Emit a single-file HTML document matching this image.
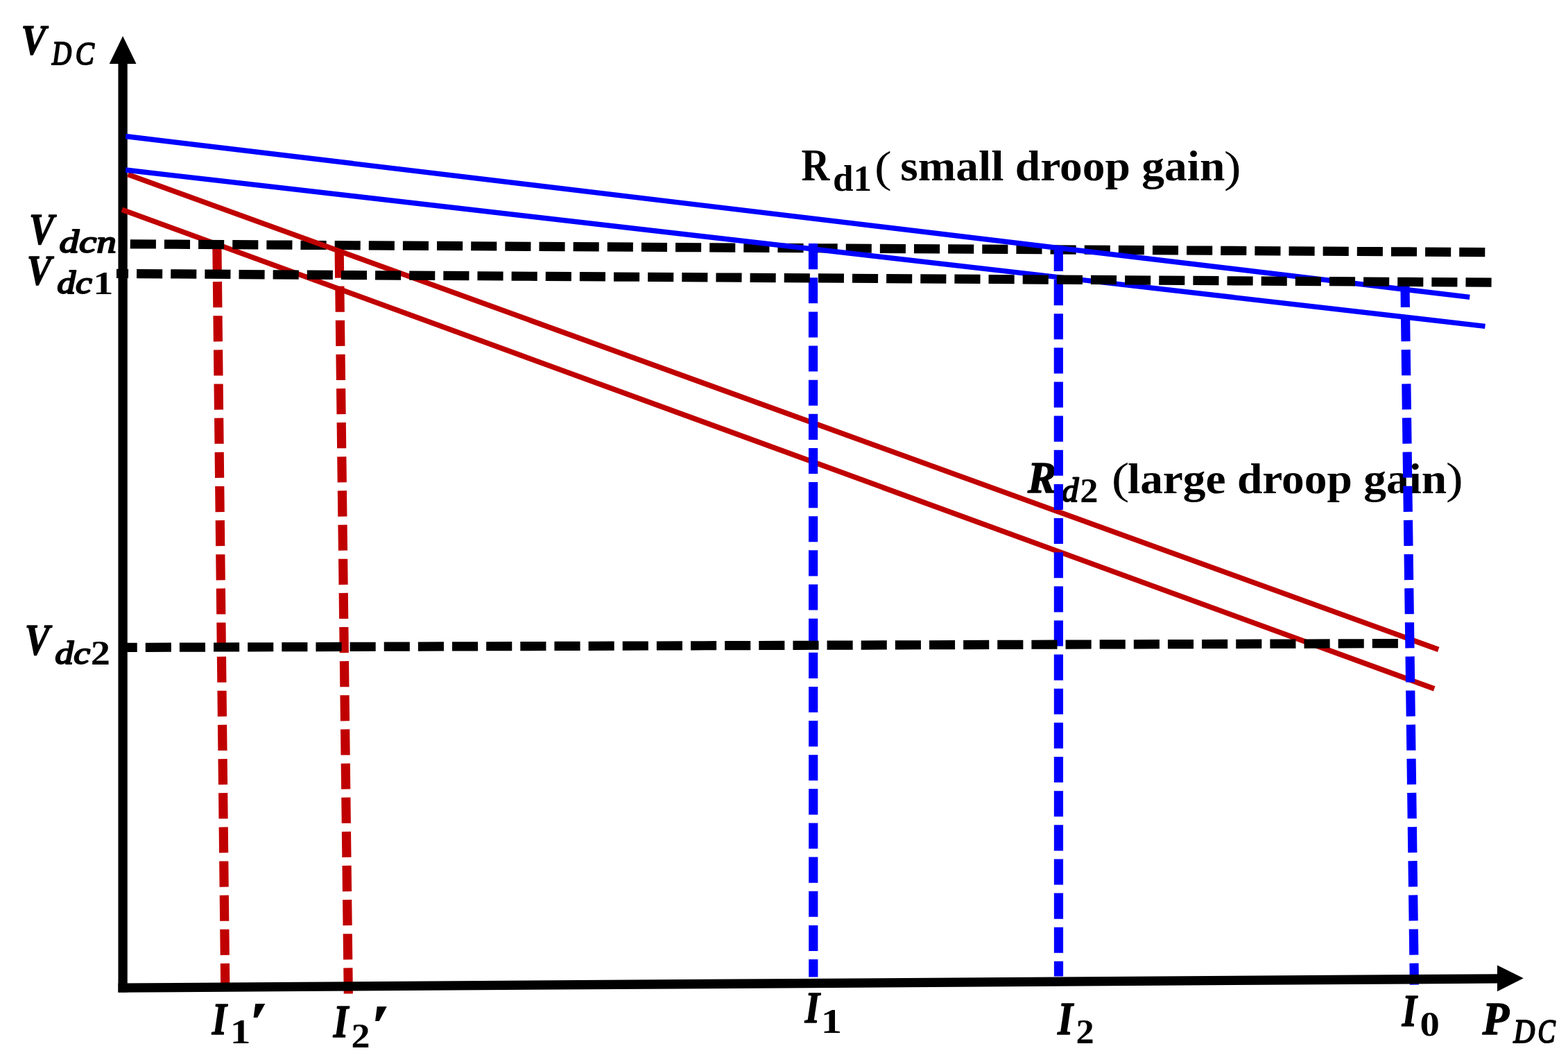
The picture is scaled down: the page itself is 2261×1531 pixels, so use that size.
<!DOCTYPE html>
<html lang="en">
<head>
<meta charset="utf-8">
<title>Droop control characteristic</title>
<style>
html,body{margin:0;padding:0;background:#fff;}
body{width:2261px;height:1531px;overflow:hidden;}
svg{display:block;}
text{font-family:"Liberation Serif",serif;}
.bi{font-weight:700;font-style:italic;}
.b{font-weight:700;}
.r{font-weight:400;}
.i{font-weight:400;font-style:italic;}
</style>
</head>
<body>
<svg xmlns="http://www.w3.org/2000/svg" width="2261" height="1531" viewBox="0 0 2261 1531">
<rect width="2261" height="1531" fill="#fff"/>
<g id="labels" fill="#000">
<text class="bi" font-size="100" stroke="#000" stroke-width="2.4" stroke-linejoin="round" transform="matrix(0.53714 0 0 0.61295 30.48 77.86)">V</text>
<text class="i" font-size="100" stroke="#000" stroke-width="4.5" stroke-linejoin="round" transform="matrix(0.38954 0 0 0.47571 74.96 92.91)">D</text>
<text class="i" font-size="100" stroke="#000" stroke-width="4.5" stroke-linejoin="round" transform="matrix(0.40451 0 0 0.47083 108.68 92.75)">C</text>
<text class="bi" font-size="100" stroke="#000" stroke-width="2.4" stroke-linejoin="round" transform="matrix(0.53714 0 0 0.64173 41.88 351.77)">V</text>
<text class="i" font-size="100" stroke="#000" stroke-width="4.5" stroke-linejoin="round" transform="matrix(0.57113 0 0 0.46133 85.41 364.19)">dcn</text>
<text class="bi" font-size="100" stroke="#000" stroke-width="2.4" stroke-linejoin="round" transform="matrix(0.53143 0 0 0.61151 38.71 410.37)">V</text>
<text class="i" font-size="100" stroke="#000" stroke-width="4.5" stroke-linejoin="round" transform="matrix(0.53684 0 0 0.45600 82.23 423.1)">dc</text>
<text class="b" font-size="100" transform="matrix(0.58378 0 0 0.46212 134.13 424.2)">1</text>
<text class="bi" font-size="100" stroke="#000" stroke-width="2.4" stroke-linejoin="round" transform="matrix(0.53714 0 0 0.63309 35.78 943.6)">V</text>
<text class="i" font-size="100" stroke="#000" stroke-width="4.5" stroke-linejoin="round" transform="matrix(0.53789 0 0 0.46533 79.33 956.97)">dc</text>
<text class="b" font-size="100" transform="matrix(0.56429 0 0 0.50606 130.84 958.1)">2</text>
<text class="b" font-size="100" transform="matrix(0.56503 0 0 0.65496 1155.55 260.37)">R</text>
<text class="b" font-size="100" transform="matrix(0.53264 0 0 0.52429 1200.97 274.88)">d1</text>
<text class="r" font-size="100" transform="matrix(0.74118 0 0 0.63333 1260.96 261.9)">(</text>
<text class="b" font-size="100" transform="matrix(0.65475 0 0 0.61874 1298.34 260.4)">small droop gain</text>
<text class="r" font-size="100" transform="matrix(0.73846 0 0 0.63556 1765.08 261.65)">)</text>
<text class="bi" font-size="100" stroke="#000" stroke-width="2.4" stroke-linejoin="round" transform="matrix(0.61679 0 0 0.63676 1482.03 710.04)">R</text>
<text class="i" font-size="100" stroke="#000" stroke-width="4.5" stroke-linejoin="round" transform="matrix(0.49038 0 0 0.48000 1530.75 722.92)">d</text>
<text class="b" font-size="100" transform="matrix(0.52381 0 0 0.50000 1557.2 724.1)">2</text>
<text class="r" font-size="100" transform="matrix(0.76863 0 0 0.64222 1602.64 711.41)">(</text>
<text class="b" font-size="100" transform="matrix(0.65396 0 0 0.61799 1625.99 710.9)">large droop gain</text>
<text class="r" font-size="100" transform="matrix(0.74231 0 0 0.64222 2084.97 711.41)">)</text>
<text class="bi" font-size="100" stroke="#000" stroke-width="2.4" stroke-linejoin="round" transform="matrix(0.54222 0 0 0.66176 305.78 1491.01)">I</text>
<text class="b" font-size="100" transform="matrix(0.59459 0 0 0.50000 331.74 1504.1)">1</text>
<text class="bi" font-size="100" transform="matrix(1.11333 0 0 0.85106 356.59 1502.74)">′</text>
<text class="bi" font-size="100" stroke="#000" stroke-width="2.4" stroke-linejoin="round" transform="matrix(0.55111 0 0 0.67206 480.7 1494.59)">I</text>
<text class="b" font-size="100" transform="matrix(0.54048 0 0 0.51061 506.44 1510.1)">2</text>
<text class="bi" font-size="100" transform="matrix(1.11333 0 0 0.88511 531.89 1508.87)">′</text>
<text class="bi" font-size="100" stroke="#000" stroke-width="2.4" stroke-linejoin="round" transform="matrix(0.54444 0 0 0.62500 1160.69 1474.26)">I</text>
<text class="b" font-size="100" transform="matrix(0.60541 0 0 0.51061 1183.76 1489.4)">1</text>
<text class="bi" font-size="100" stroke="#000" stroke-width="2.4" stroke-linejoin="round" transform="matrix(0.56000 0 0 0.66618 1525.32 1491.2)">I</text>
<text class="b" font-size="100" transform="matrix(0.52381 0 0 0.50455 1551.5 1504.2)">2</text>
<text class="bi" font-size="100" stroke="#000" stroke-width="2.4" stroke-linejoin="round" transform="matrix(0.54222 0 0 0.65147 2021.78 1479.02)">I</text>
<text class="b" font-size="100" transform="matrix(0.56667 0 0 0.50074 2047.43 1492.7)">0</text>
<text class="bi" font-size="100" stroke="#000" stroke-width="2.4" stroke-linejoin="round" transform="matrix(0.62636 0 0 0.66618 2137.84 1491.2)">P</text>
<text class="i" font-size="100" stroke="#000" stroke-width="4.5" stroke-linejoin="round" transform="matrix(0.42614 0 0 0.48286 2182.59 1503.19)">D</text>
<text class="i" font-size="100" stroke="#000" stroke-width="4.5" stroke-linejoin="round" transform="matrix(0.37594 0 0 0.47778 2217.48 1503.03)">C</text>
</g>
<g id="red-dashed" fill="none">
<line x1="312.9" y1="357" x2="324.7" y2="1418" stroke="#c00000" stroke-width="13.2" stroke-dasharray="37.1 12.04"/>
<line x1="489.2" y1="363.5" x2="502.3" y2="1432.6" stroke="#c00000" stroke-width="13.2" stroke-dasharray="37.1 12.04"/>
</g>
<g id="y-axis">
<line x1="177.1" y1="90" x2="177.1" y2="1430.6" stroke="#000000" stroke-width="13.3"/>
<polygon points="177.1,52 157.7,92 196.5,92" fill="#000"/>
</g>
<g id="red-line-2" fill="none">
<line x1="175.9" y1="302.3" x2="2068.2" y2="992.9" stroke="#c00000" stroke-width="7.6"/>
</g>
<g id="vdcn" fill="none">
<line x1="187.8" y1="351.8" x2="2141.6" y2="363.6" stroke="#000000" stroke-width="13.2" stroke-dasharray="37.1 12.04"/>
</g>
<g id="red-line-1" fill="none">
<line x1="184.4" y1="251.5" x2="2074.2" y2="936.4" stroke="#c00000" stroke-width="7.6"/>
</g>
<g id="blue-dashed" fill="none">
<line x1="1172.5" y1="351.1" x2="1172.8" y2="1408.6" stroke="#0000ff" stroke-width="13.2" stroke-dasharray="37.1 12.04"/>
<line x1="1526.3" y1="353.9" x2="1526.5" y2="1407.5" stroke="#0000ff" stroke-width="13.2" stroke-dasharray="37.1 12.04"/>
<line x1="2025.9" y1="405.9" x2="2039.4" y2="1419.6" stroke="#0000ff" stroke-width="13.2" stroke-dasharray="37.1 12.04"/>
</g>
<g id="x-axis">
<line x1="170.5" y1="1424.1" x2="2160.5" y2="1410.9" stroke="#000000" stroke-width="13.3"/>
<polygon points="2159,1391.5 2196.8,1410.3 2159,1429.2" fill="#000"/>
</g>
<g id="blue-lines" fill="none">
<line x1="181.2" y1="196.5" x2="2119.3" y2="428.4" stroke="#0000ff" stroke-width="7.4"/>
<line x1="181.2" y1="245" x2="2141.5" y2="470.4" stroke="#0000ff" stroke-width="7.4"/>
</g>
<g id="vdc1-vdc2" fill="none">
<line x1="2150.6" y1="407.2" x2="168" y2="394.4" stroke="#000000" stroke-width="13.2" stroke-dasharray="37.1 12.04"/>
<line x1="2015.9" y1="927.6" x2="181" y2="933.4" stroke="#000000" stroke-width="13.2" stroke-dasharray="37.1 12.04"/>
</g>
</svg>
</body>
</html>
